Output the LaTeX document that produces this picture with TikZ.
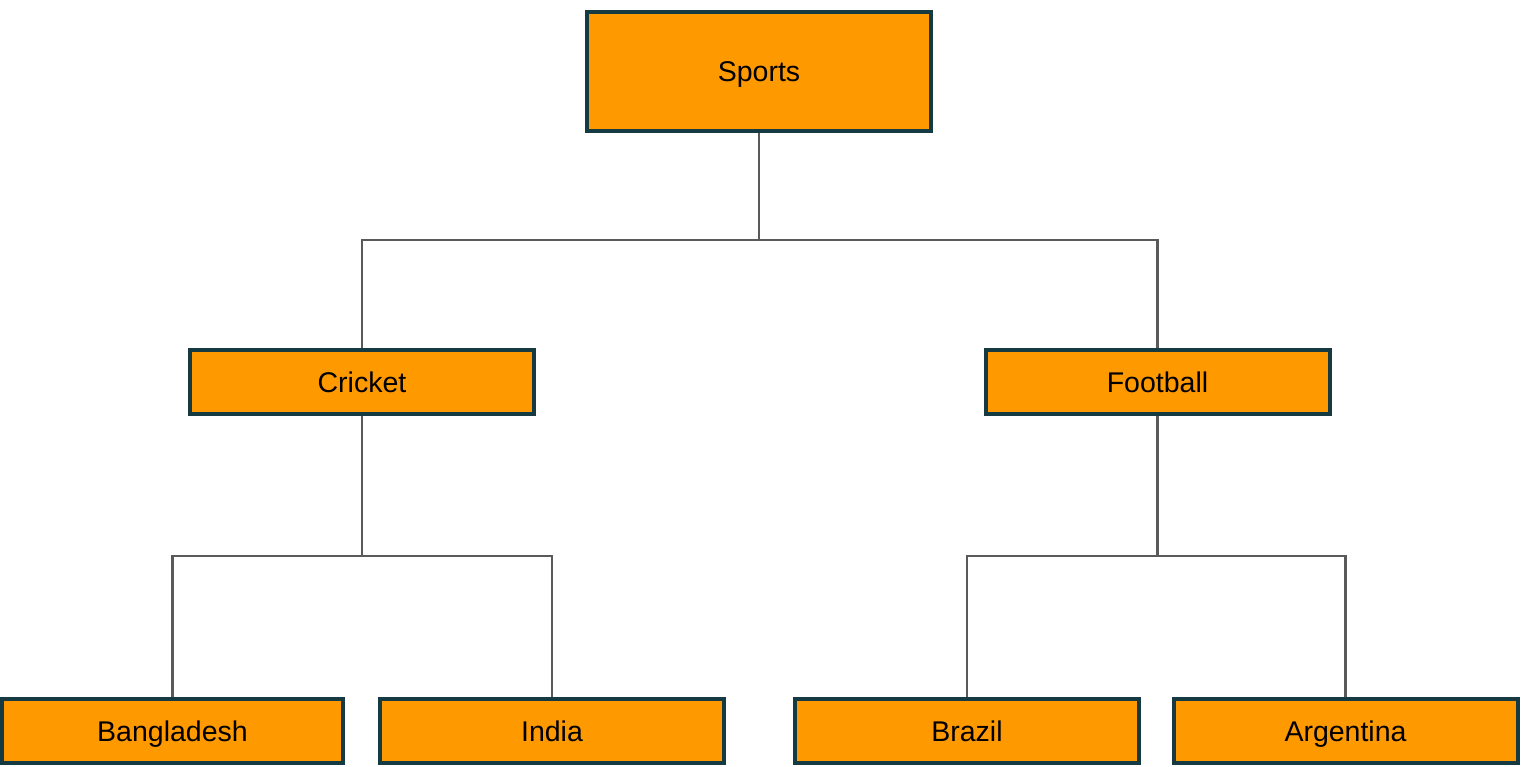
\documentclass[tikz,border=0pt]{standalone}
\usepackage{fontspec}
\setmainfont{Liberation Sans}
\definecolor{boxfill}{RGB}{255,153,0}
\definecolor{boxline}{RGB}{22,58,66}
\definecolor{conn}{RGB}{90,90,90}
\begin{document}
\begin{tikzpicture}[x=1pt,y=-1pt,
  box/.style={draw=boxline,fill=boxfill,line width=4pt,minimum width=344pt,minimum height=64pt,inner sep=0pt,text height=21pt,text depth=0pt,font=\fontsize{28.5}{32}\selectfont,text=black},
  bigbox/.style={box,minimum height=119pt},
  link/.style={draw=conn,line width=2.8pt}]
\useasboundingbox (0,0) rectangle (1536,767);
\node[bigbox] (sports) at (759,71.5) {Sports};
\node[box] (cricket) at (362,382) {Cricket};
\node[box] (football) at (1157.5,382) {Football};
\node[box,minimum width=341pt] (bangladesh) at (172.5,731) {Bangladesh};
\node[box] (india) at (552,731) {India};
\node[box] (brazil) at (967,731) {Brazil};
\node[box] (argentina) at (1345.5,731) {Argentina};
\coordinate (j1) at (759,240);
\coordinate (j2) at (362,556);
\coordinate (j3) at (1157.5,556);
\path[link] (sports.south) -- (j1) -| (cricket.north);
\path[link] (j1) -| (football.north);
\path[link] (cricket.south) -- (j2) -| (bangladesh.north);
\path[link] (j2) -| (india.north);
\path[link] (football.south) -- (j3) -| (brazil.north);
\path[link] (j3) -| (argentina.north);
\end{tikzpicture}
\end{document}
